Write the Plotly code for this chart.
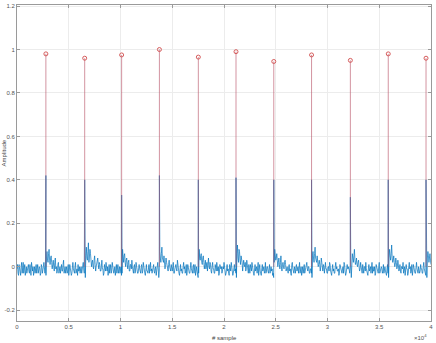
import numpy as np
import plotly.graph_objects as go

# ---- data ----
# detected peaks (sample index, amplitude)
peak_x = [2790, 6540, 10110, 13760, 17520, 21160, 24810, 28460, 32210, 35870, 39520]
peak_y = [0.98, 0.96, 0.975, 1.0, 0.965, 0.99, 0.945, 0.975, 0.95, 0.98, 0.96]
# height reached by the blue signal at each beat
spike_y = [0.42, 0.40, 0.33, 0.42, 0.40, 0.41, 0.40, 0.40, 0.32, 0.40, 0.40]
# baseline signal at samples 0, 100, 200, ... (hundredths)
noise = [
    -1, -3, 1, -2, 0, -3, 2, -1, -4, 0,
    -2, 1, -3, -1, 2, -2, -4, 0, -1, -3,
    1, -2, -1, -3, 0, -2, 2, -3, -4, 7,
    2, 8, 1, 5, -1, 3, -2, 4, 0, -2,
    2, -1, -3, 1, -2, 3, -1, -3, 0, -2,
    -4, 1, -1, -3, 2, -2, 0, -3, -1, 1,
    -2, -3, 0, -1, 2, -3, -5, 9, 3, 11,
    4, 6, 0, 3, -1, 5, -2, 2, 4, -1,
    1, -2, 3, -1, -3, 0, 2, -2, -4, 1,
    -1, -3, 2, 0, -2, -4, 1, -1, -3, 0,
    -2, -4, 8, 2, 6, 0, 4, -1, 3, -2,
    1, 3, -2, 0, -3, 2, -1, -3, 1, -2,
    0, -3, 2, -1, -4, 1, -2, 0, -3, 2,
    -1, -2, 1, -3, 0, -2, 2, -5, 7, 2,
    9, 3, 5, -1, 4, 0, -2, 3, -1, 1,
    -2, 2, -3, 0, -1, 3, -2, -4, 1, -1,
    -3, 2, 0, -2, -4, 1, -1, -3, 2, -2,
    0, -3, 1, -1, -2, -5, 8, 3, 6, 1,
    5, -1, 3, 0, -2, 4, -1, 1, -3, 2,
    -1, -3, 0, 2, -2, -4, 1, -1, -3, 0,
    2, -2, -3, 1, -1, -4, 0, 2, -2, -3,
    1, -1, -5, 10, 2, 7, 1, 4, -2, 3,
    0, -2, 3, -1, 1, -3, 0, 2, -2, -4,
    1, -1, -3, 2, 0, -2, -4, 1, -1, -3,
    2, -2, 0, -3, 1, -1, -2, -4, -5, 8,
    3, 6, 0, 4, -1, 5, -2, 2, -1, 3,
    -2, 0, -3, 1, -1, -4, 2, -2, 0, -3,
    1, -1, -3, 2, -2, -4, 0, 1, -3, -1,
    2, -2, 0, -3, -1, -5, 7, 2, 9, 3,
    5, 0, 3, -2, 4, -1, 1, -3, 2, -1,
    -3, 0, 2, -2, -4, 1, -1, -3, 2, 0,
    -2, -4, 1, -1, -3, 0, 2, -2, -3, 1,
    -1, -2, 0, -5, 6, 2, 8, 1, 4, 0,
    3, -2, 2, -1, 1, -3, 0, 2, -2, -4,
    1, -1, -3, 2, 0, -2, -4, 1, -1, -3,
    2, -2, 0, -3, 1, -1, -2, -4, 1, -5,
    8, 3, 10, 2, 5, 0, 4, -1, 3, -2,
    1, -3, 0, 2, -2, -4, 1, -1, -3, 2,
    0, -2, -4, 1, -1, -3, 2, -2, 0, -3,
    1, -1, -3, 2, -2, -4, -5, 7, 2, 6,
    1,
]
# baseline signal at samples 50, 150, 250, ... (hundredths)
noise_mid = [
    1, -4, -1, -4, 2, -1, -3, 1, -2, -3,
    0, -2, 1, -4, -1, 0, -2, -3, 1, -1,
    -3, 0, -4, 1, -3, 0, -2, 0, 4, 3,
    6, 3, 4, 2, 1, 0, 2, -1, -3, 1,
    -3, 0, -1, -2, 1, -3, 0, -1, -3, 1,
    -2, -1, -4, 0, -1, -3, 2, -1, -4, -2,
    0, -1, -3, 1, -1, -2, 5, 4, 7, 2,
    8, 1, 2, 0, 3, 1, 0, 3, 1, 2,
    -2, 0, -1, -4, 1, -2, -1, 0, -2, -3,
    1, -2, -1, -3, 0, -2, -3, 1, -1, -3,
    0, -3, 4, 5, 2, 3, 1, 2, -2, 1,
    -1, 0, -3, 1, -2, -1, -3, 0, -1, -3,
    1, -2, -1, -3, 0, -2, -3, 1, -1, -2,
    -3, 0, -2, -1, -4, 1, -1, -2, 4, 6,
    4, 2, 3, 1, 2, -1, 1, 0, -2, -1,
    0, -3, -1, 1, -2, 0, -3, -1, -2, -3,
    0, -1, -3, 1, -2, -1, -3, 0, -1, -3,
    1, -1, -4, 0, -3, -3, 4, 5, 2, 4,
    2, 1, -1, 2, 1, 0, 2, -2, 0, -1,
    -3, 1, -2, -1, 0, -3, -1, 0, -2, -1,
    -1, -4, 0, -2, -3, 1, -2, -1, -4, 0,
    -2, -3, 6, 4, 8, 3, 5, 2, 0, 1,
    2, -1, 0, -3, -1, 1, -2, -1, -3, 0,
    -2, 0, -1, -4, 1, -3, -1, -2, 0, -2,
    -3, 0, -2, -1, -3, 0, -1, -3, 2, 5,
    4, 3, 2, 1, 2, 0, 1, 0, 2, 1,
    -1, -3, 0, -2, -3, 1, -1, -3, -2, 0,
    -2, 0, -1, -3, 0, -2, -3, 1, -2, 0,
    -1, 0, -3, -1, -3, 5, 4, 6, 4, 2,
    2, 1, 1, 0, 2, -2, 0, -1, -1, -3,
    0, -2, 1, -3, -1, -2, -3, 0, -1, -2,
    -1, -3, 0, -2, -1, -3, 1, -4, 0, -1,
    0, -3, 1, 3, 4, 5, 3, 2, 1, 2,
    0, -1, 0, -3, -1, 0, -2, -1, -4, -1,
    -2, 0, -1, -3, -2, 0, -3, -1, -2, 0,
    -3, 0, -1, -2, -3, 0, -4, -1, -3, 4,
    5, 6, 4, 3, 2, 1, 2, 0, 1, -1,
    -2, 0, -1, -3, 0, -2, -1, -4, 0, -1,
    -3, 1, -2, -1, -3, 0, -1, -3, -1, -2,
    -1, -3, 0, -1, -3, 1, 4, 5, 4, 3,
]
sample_step = 100
x_ticks = [0, 5000, 10000, 15000, 20000, 25000, 30000, 35000, 40000]
x_ticklabels = ["0", "0.5", "1", "1.5", "2", "2.5", "3", "3.5", "4"]
y_ticks = [-0.2, 0, 0.2, 0.4, 0.6, 0.8, 1.0, 1.2]
y_ticklabels = ["-0.2", "0", "0.2", "0.4", "0.6", "0.8", "1", "1.2"]

# ---- build signal ----
bx = list(np.arange(len(noise)) * sample_step)
by = [v / 100.0 for v in noise]
mx = list(np.arange(len(noise_mid)) * sample_step + sample_step // 2)
my = [v / 100.0 for v in noise_mid]
sig = sorted(list(zip(bx, by)) + list(zip(mx, my)) + list(zip(peak_x, spike_y)))
sx = [p[0] for p in sig]
sy = [p[1] for p in sig]

stem_x, stem_y = [], []
for px_, py_ in zip(peak_x, peak_y):
    stem_x += [px_, px_, None]
    stem_y += [0, py_, None]

fig = go.Figure()
fig.add_trace(go.Scatter(x=sx, y=sy, mode="lines",
                         line=dict(color="#0072BD", width=0.7), hoverinfo="skip"))
fig.add_trace(go.Scatter(x=stem_x, y=stem_y, mode="lines",
                         line=dict(color="rgba(185,85,105,0.7)", width=0.9), hoverinfo="skip"))
fig.add_trace(go.Scatter(x=peak_x, y=peak_y, mode="markers",
                         marker=dict(symbol="circle-open", size=4, color="#d65c5c",
                                     line=dict(width=1)), hoverinfo="skip"))

axis_common = dict(showgrid=True, gridcolor="#ececec", gridwidth=1,
                   showline=True, linecolor="#9a9a9a", linewidth=1, mirror="allticks",
                   ticks="inside", ticklen=3, tickcolor="#9a9a9a",
                   tickfont=dict(size=6, color="#555", family="Liberation Sans"),
                   zeroline=False)

fig.update_layout(
    width=436, height=343,
    margin=dict(l=17, r=3, t=3, b=22),
    paper_bgcolor="white", plot_bgcolor="white",
    showlegend=False,
    xaxis=dict(range=[0, 40000], tickvals=x_ticks, ticktext=x_ticklabels, **axis_common),
    yaxis=dict(range=[-0.25, 1.205], tickvals=y_ticks, ticktext=y_ticklabels, **axis_common),
    annotations=[
        dict(text="# sample", xref="paper", yref="paper", x=0.5, y=0, yshift=-17,
             showarrow=False, xanchor="center", yanchor="middle",
             font=dict(size=6, color="#444", family="Liberation Sans")),
        dict(text="Amplitude", xref="paper", yref="paper", x=0, y=0.53, xshift=-13,
             showarrow=False, textangle=-90, xanchor="center", yanchor="middle",
             font=dict(size=6, color="#444", family="Liberation Sans")),
        dict(text="×10<sup>4</sup>", xref="paper", yref="paper", x=1, y=0, yshift=-16,
             xshift=-2, showarrow=False, xanchor="right", yanchor="middle",
             font=dict(size=6, color="#555", family="Liberation Sans")),
    ],
)
fig.write_html("out.html")
